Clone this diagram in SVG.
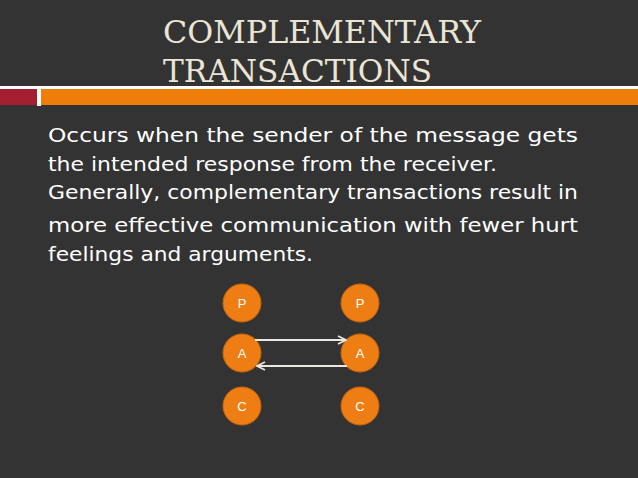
<svg xmlns="http://www.w3.org/2000/svg" width="638" height="478" viewBox="0 0 638 478">
<style>
.t{font-family:"DejaVu Serif","Liberation Serif",serif;font-size:32px;fill:#ebe5d6}
.b{font-family:"DejaVu Sans","Liberation Sans",sans-serif;font-size:19px;fill:#fff}
.n circle{fill:#ee7d14;stroke:#c8640a;stroke-width:1}
.n text{font-family:"Liberation Sans",sans-serif;font-size:13px;fill:#fff;text-anchor:middle}
.c line{stroke:#ebe8e0;stroke-width:2}
</style>
<defs><marker id="ah" viewBox="0 0 10 10" refX="9" refY="5" markerWidth="5" markerHeight="5" orient="auto"><path d="M1,1L9,5L1,9" fill="none" stroke="#ebe8e0" stroke-width="1.6"/></marker></defs>
<rect width="638" height="478" fill="#333333"/>
<rect x="0" y="86" width="638" height="3" fill="#fff"/>
<rect x="0" y="89" width="37" height="16" fill="#a51f33"/>
<rect x="37" y="86" width="4" height="20" fill="#fff"/>
<rect x="41" y="89" width="597" height="16" fill="#ee7d0a"/>
<text class="t" x="163" y="43" textLength="318" lengthAdjust="spacingAndGlyphs">COMPLEMENTARY</text>
<text class="t" x="163" y="82" textLength="269" lengthAdjust="spacingAndGlyphs">TRANSACTIONS</text>
<text class="b" x="48" y="142" textLength="530" lengthAdjust="spacingAndGlyphs">Occurs when the sender of the message gets</text>
<text class="b" x="48" y="171" textLength="449" lengthAdjust="spacingAndGlyphs">the intended response from the receiver.</text>
<text class="b" x="48" y="199" textLength="530" lengthAdjust="spacingAndGlyphs">Generally, complementary transactions result in</text>
<text class="b" x="48" y="232" textLength="530" lengthAdjust="spacingAndGlyphs">more effective communication with fewer hurt</text>
<text class="b" x="48" y="261" textLength="265" lengthAdjust="spacingAndGlyphs">feelings and arguments.</text>
<g id="lp" class="n"><circle cx="242" cy="303" r="19"/><text x="242" y="308">P</text></g>
<g id="la" class="n"><circle cx="242" cy="353" r="19"/><text x="242" y="358">A</text></g>
<g id="lc" class="n"><circle cx="242" cy="406" r="19"/><text x="242" y="411">C</text></g>
<g id="rp" class="n"><circle cx="360" cy="303" r="19"/><text x="360" y="308">P</text></g>
<g id="ra" class="n"><circle cx="360" cy="353" r="19"/><text x="360" y="358">A</text></g>
<g id="rc" class="n"><circle cx="360" cy="406" r="19"/><text x="360" y="411">C</text></g>
<g class="c"><line x1="255" y1="340" x2="346" y2="340" marker-end="url(#ah)"/><line x1="347" y1="366" x2="257" y2="366" marker-end="url(#ah)"/></g>
</svg>
